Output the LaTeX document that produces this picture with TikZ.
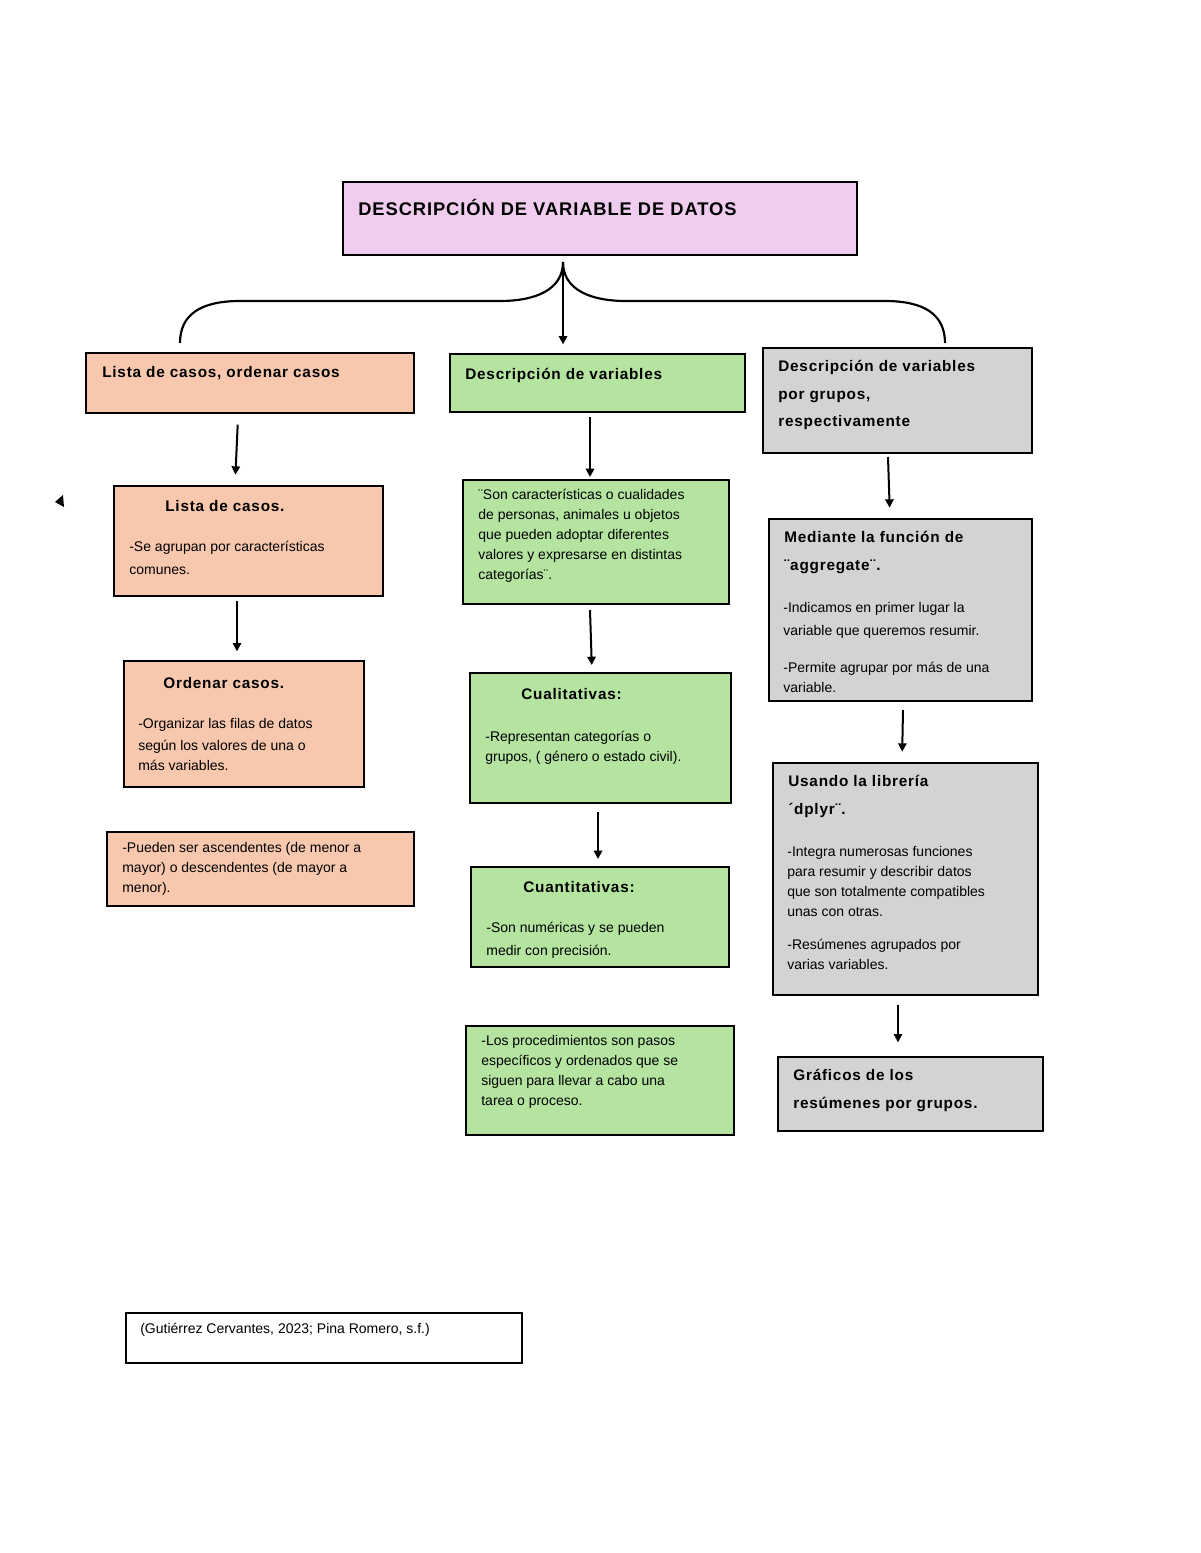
\documentclass[tikz,border=0pt]{standalone}
\usepackage{fontspec}
\setmainfont{Liberation Sans}
\newfontfamily\hd{Liberation Sans}[LetterSpace=5]
\usetikzlibrary{arrows.meta}
\definecolor{pinkc}{HTML}{F0CCEE}
\definecolor{salm}{HTML}{F7C8AE}
\definecolor{grn}{HTML}{B4E4A0}
\definecolor{gry}{HTML}{D3D3D3}
\tikzset{
 box/.style={draw=black,line width=1.6pt,inner sep=0pt},
 txt/.style={inner sep=0pt,align=left,font=\fontsize{8.4}{12}\selectfont},
 ttl/.style={inner sep=0pt,align=left,font=\hd\bfseries\fontsize{9.2}{16.5}\selectfont},
 arr/.style={-{Triangle[length=5pt,width=5pt]},line width=1.2pt},
}
\newcommand\mybox[6]{\node[box,fill=#2,minimum width={(#5-#3)*0.6pt},minimum height={(#6-#4)*0.6pt}] (#1) at ({(#3+#5)/2},{(#4+#6)/2}) {};}
\begin{document}
\begin{tikzpicture}[x=0.6pt,y=-0.6pt]
\useasboundingbox (0,0) rectangle (1200,1553);
\mybox{T}{pinkc}{343}{182}{857}{255}
\node[ttl,font=\hd\bfseries\fontsize{11}{13}\selectfont,anchor=west] (Tt) at (358,207) {DESCRIPCIÓN DE VARIABLE DE DATOS};
% column A
\mybox{A}{salm}{86}{353}{414}{413}
\node[ttl,anchor=west] (At) at (102,373) {Lista de casos, ordenar casos};
\mybox{A1}{salm}{114}{486}{383}{596}
\node[ttl,anchor=west] (A1t) at (165,506) {Lista de casos.};
\node[txt,anchor=north west] (A1b) at (129,541) {-Se agrupan por características\\[2pt]comunes.};
\mybox{A2}{salm}{124}{661}{364}{787}
\node[ttl,anchor=west] (A2t) at (163,683) {Ordenar casos.};
\node[txt,anchor=north west] (A2b) at (138,718) {-Organizar las filas de datos\\[1pt]según los valores de una o\\más variables.};
\mybox{A3}{salm}{107}{832}{414}{906}
\node[txt,anchor=north west] (A3b) at (122,842) {-Pueden ser ascendentes (de menor a\\mayor) o descendentes (de mayor a\\menor).};
% column B
\mybox{B}{grn}{450}{354}{745}{412}
\node[ttl,anchor=west] (Bt) at (465,375) {Descripción de variables};
\mybox{B1}{grn}{463}{480}{729}{604}
\node[txt,anchor=north west] (B1b) at (478,489) {¨Son características o cualidades\\de personas, animales u objetos\\que pueden adoptar diferentes\\valores y expresarse en distintas\\categorías¨.};
\mybox{B2}{grn}{470}{673}{731}{803}
\node[ttl,anchor=west] (B2t) at (521,694) {Cualitativas:};
\node[txt,anchor=north west] (B2b) at (485,731) {-Representan categorías o\\grupos, ( género o estado civil).};
\mybox{B3}{grn}{471}{867}{729}{967}
\node[ttl,anchor=west] (B3t) at (523,887) {Cuantitativas:};
\node[txt,anchor=north west] (B3b) at (486,922) {-Son numéricas y se pueden\\[2pt]medir con precisión.};
\mybox{B4}{grn}{466}{1026}{734}{1135}
\node[txt,anchor=north west] (B4b) at (481,1035) {-Los procedimientos son pasos\\específicos y ordenados que se\\siguen para llevar a cabo una\\tarea o proceso.};
% column C
\mybox{C}{gry}{763}{348}{1032}{453}
\node[ttl,anchor=north west] (Ct) at (778,360) {Descripción de variables\\por grupos,\\respectivamente};
\mybox{C1}{gry}{769}{519}{1032}{701}
\node[ttl,anchor=north west] (C1t) at (784,531) {Mediante la función de\\¨aggregate¨.};
\node[txt,anchor=north west] (C1b) at (783,602) {-Indicamos en primer lugar la\\[2pt]variable que queremos resumir.\\[10pt]-Permite agrupar por más de una\\variable.};
\mybox{C2}{gry}{773}{763}{1038}{995}
\node[ttl,anchor=north west] (C2t) at (788,775) {Usando la librería\\´dplyr¨.};
\node[txt,anchor=north west] (C2b) at (787,846) {-Integra numerosas funciones\\para resumir y describir datos\\que son totalmente compatibles\\unas con otras.\\[8pt]-Resúmenes agrupados por\\varias variables.};
\mybox{C3}{gry}{778}{1057}{1043}{1131}
\node[ttl,anchor=north west] (C3t) at (793,1069) {Gráficos de los\\resúmenes por grupos.};
% reference
\node[draw=black,line width=1.6pt,minimum width={396*0.6pt},minimum height={50*0.6pt},inner sep=0pt] (R) at (324,1338) {};
\node[txt,anchor=west] (Rt) at (140,1330) {(Gutiérrez Cervantes, 2023; Pina Romero, s.f.)};
% brace
\coordinate (bt) at (563,262);
\coordinate (bl) at (180,343);
\coordinate (br) at (945,343);
\draw[line width=1.3pt] (bt) .. controls (563,290) and (535,301) .. (500,301) -- (240,301) .. controls (200,301) and (180,315) .. (bl);
\draw[line width=1.3pt] (bt) .. controls (563,290) and (591,301) .. (626,301) -- (885,301) .. controls (925,301) and (945,315) .. (br);
\draw[arr] (bt) -- (B.north -| bt) [shorten >=5pt];
% arrows
\draw[arr,shorten <=4pt,shorten >=6pt] (238,418) -- (A1.north -| 235,0);
\draw[arr,shorten >=5pt] (237,601) -- (A2.north -| 237,0);
\draw[arr,shorten >=1pt] (590,417) -- (B1.north -| 590,0);
\draw[arr,shorten >=4pt] (590,610) -- (B2.north -| 592,0);
\draw[arr,shorten >=4pt] (598,812) -- (B3.north -| 598,0);
\draw[arr,shorten >=6pt] (888,457) -- (C1.north -| 890,0);
\draw[arr,shorten >=6pt] (903,710) -- (C2.north -| 902,0);
\draw[arr,shorten >=8pt] (898,1005) -- (C3.north -| 898,0);
% stray mark
\fill (55,502) -- (63,495) -- (64,507) -- cycle;
\end{tikzpicture}
\end{document}
